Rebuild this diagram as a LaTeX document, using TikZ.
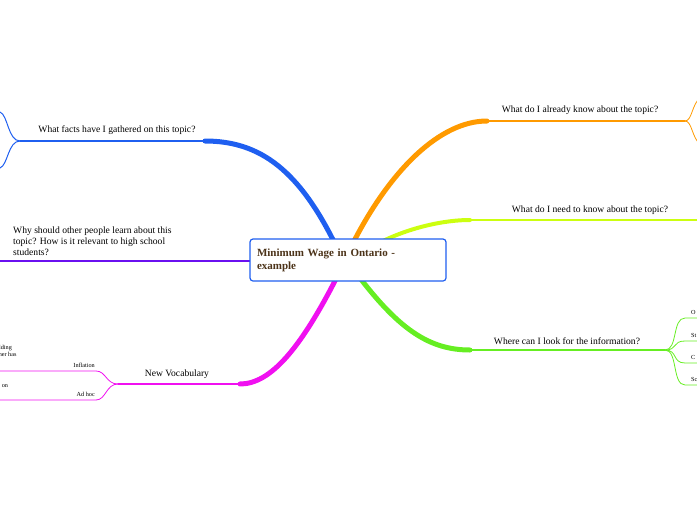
\documentclass[tikz,border=0pt]{standalone}
\usepackage{fontspec}
\setmainfont{Liberation Serif}
\begin{document}
\begin{tikzpicture}[x=1pt,y=-1pt,
 lbl/.style={font=\fontsize{9.6}{11}\selectfont, inner sep=0pt},
 small/.style={font=\fontsize{6.2}{7.5}\selectfont, inner sep=0pt},
 br/.style={line width=#1, line cap=round}]
\useasboundingbox (0,0) rectangle (697,520);
\clip (0,0) rectangle (697,520);
\definecolor{colb}{HTML}{1F5FF0}\definecolor{colp}{HTML}{6A10F0}\definecolor{colm}{HTML}{F010F0}
\definecolor{colo}{HTML}{FF9A00}\definecolor{coly}{HTML}{CCFF10}\definecolor{colg}{HTML}{66EE22}
% blue
\coordinate (b1) at (205,141); \coordinate (b0) at (20,141);
\draw[colb,br=5pt] (338,250) .. controls (300,170) and (260,141) .. (b1);
\draw[colb,br=1.2pt] (b1) -- (b0);
\draw[colb,br=1pt] (b0) .. controls (8,141) and (8,115) .. (0,112);
\draw[colb,br=1pt] (b0) .. controls (8,141) and (8,165) .. (0,168);
\node[lbl,anchor=south] (bt) at (117,135) {What facts have I gathered on this topic?};
% purple
\coordinate (p1) at (0,261);
\draw[colp,br=1.5pt] (250,261) -- (p1);
\node[lbl,anchor=south west,align=left] (pt) at (13,256) {Why should other people learn about this\\topic? How is it relevant to high school\\students?};
% magenta
\coordinate (m1) at (240,384); \coordinate (m0) at (118,384);
\draw[colm,br=5pt] (338,275) .. controls (300,350) and (270,384) .. (m1);
\draw[colm,br=1.2pt] (m1) -- (m0);
\node[lbl,anchor=south] (mt) at (177,379) {New Vocabulary};
\draw[colm,br=0.8pt] (m0) .. controls (106,384) and (106,371) .. (96,371) -- (0,371);
\draw[colm,br=0.8pt] (m0) .. controls (106,384) and (106,400) .. (96,400) -- (0,400);
\node[small,anchor=south east] (inf) at (95,368) {Inflation};
\node[small,anchor=south east] (adh) at (95,397) {Ad hoc};
\node[small,anchor=west,align=left] (x1) at (-9,351) {building\\owner has};
\node[small,anchor=west,align=left] (x2) at (-14,389) {based on\\nd?};
% orange
\coordinate (o1) at (487,121); \coordinate (o0) at (685,121);
\draw[colo,br=5pt] (352,245) .. controls (390,170) and (440,121) .. (o1);
\draw[colo,br=1.2pt] (o1) -- (o0);
\draw[colo,br=0.8pt] (o0) .. controls (692,121) and (692,104) .. (700,98);
\draw[colo,br=0.8pt] (o0) .. controls (692,121) and (692,138) .. (700,144);
\node[lbl,anchor=south] (ot) at (580,115) {What do I already know about the topic?};
% yellow
\coordinate (y1) at (470,220);
\draw[coly,br=4pt] (370,248) .. controls (400,230) and (440,220) .. (y1);
\draw[coly,br=1.2pt] (y1) -- (697,220);
\node[lbl,anchor=south] (yt) at (590,215) {What do I need to know about the topic?};
% green
\coordinate (g1) at (470,350); \coordinate (g0) at (665,350);
\draw[colg,br=5pt] (360,278) .. controls (400,330) and (430,350) .. (g1);
\draw[colg,br=1.2pt] (g1) -- (g0);
\node[lbl,anchor=south] (gt) at (567,345) {Where can I look for the information?};
\foreach \yy/\t in {318/O,341/St,363/C,385/Sc}{
 \draw[colg,br=0.8pt] (g0) .. controls (678,350) and (672,\yy) .. (685,\yy) -- (700,\yy);
 \node[small,anchor=south west] at (691,\yy-3) {\t};}
% center
\node[draw=colb,line width=1.2pt,rounded corners=3pt,fill=white,minimum width=196pt,minimum height=42pt,
 text width=182pt,align=left,font=\fontsize{11}{13}\selectfont\bfseries,text=black!60!brown] (ctr) at (348,260)
 {Minimum Wage in Ontario -\\example};
\end{tikzpicture}
\end{document}
